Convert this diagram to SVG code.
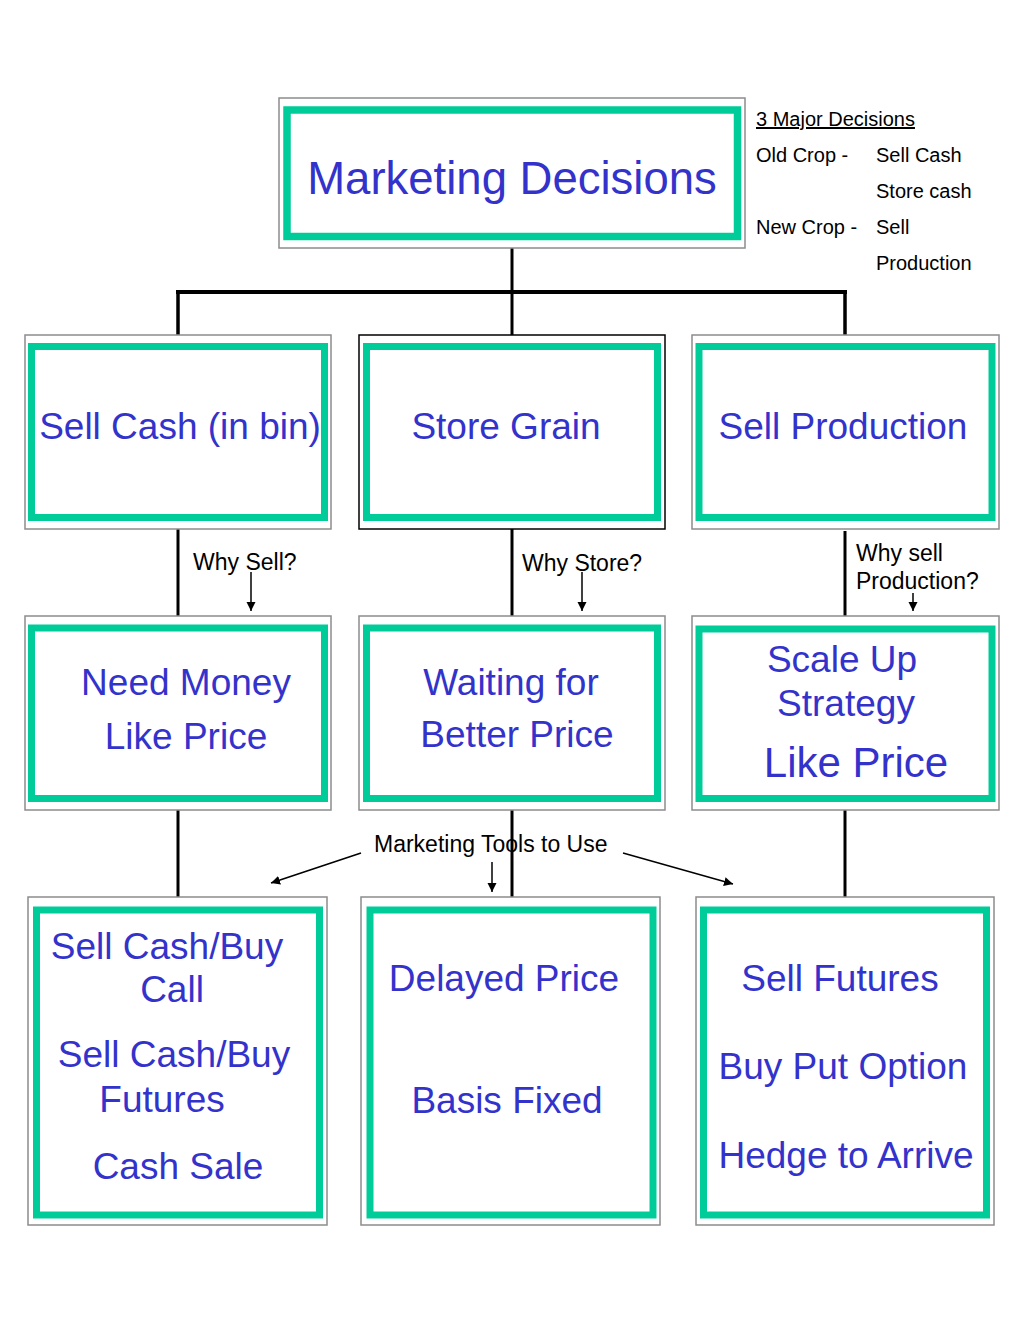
<svg xmlns="http://www.w3.org/2000/svg" width="1024" height="1325" viewBox="0 0 1024 1325">
<style>
.frame{fill:#fff;stroke:#8c8c8c;stroke-width:1.5}
.frameb{fill:#fff;stroke:#000;stroke-width:1.5}
.green{fill:none;stroke:#00cc99;stroke-width:7}
.big{font-family:"Liberation Sans",Arial,sans-serif;font-size:37px;fill:#3333cc;text-anchor:middle}
.lbl{font-family:"Liberation Sans",Arial,sans-serif;font-size:23px;fill:#000}
.leg{font-family:"Liberation Sans",Arial,sans-serif;font-size:20px;fill:#000}
.conn{stroke:#000;fill:none}
</style>
<defs>
<marker id="ah" markerUnits="userSpaceOnUse" markerWidth="10" markerHeight="10" refX="9" refY="4.5" orient="auto">
<path d="M0,0 L9,4.5 L0,9 Z" fill="#000"/>
</marker>
</defs>
<rect width="1024" height="1325" fill="#fff"/>

<g id="connectors">
<line class="conn" x1="512" y1="248" x2="512" y2="335" stroke-width="3"/>
<line class="conn" x1="176" y1="292" x2="847" y2="292" stroke-width="4"/>
<line class="conn" x1="178" y1="292" x2="178" y2="335" stroke-width="3.5"/>
<line class="conn" x1="845" y1="292" x2="845" y2="335" stroke-width="3.5"/>
<line class="conn" x1="178" y1="529" x2="178" y2="616" stroke-width="3"/>
<line class="conn" x1="512" y1="529" x2="512" y2="616" stroke-width="3"/>
<line class="conn" x1="845" y1="531" x2="845" y2="616" stroke-width="3"/>
<line class="conn" x1="178" y1="810" x2="178" y2="897" stroke-width="3"/>
<line class="conn" x1="512" y1="810" x2="512" y2="897" stroke-width="3"/>
<line class="conn" x1="845" y1="810" x2="845" y2="897" stroke-width="3"/>
<line class="conn" x1="251" y1="572" x2="251" y2="611" stroke-width="1.5" marker-end="url(#ah)"/>
<line class="conn" x1="582" y1="572" x2="582" y2="611" stroke-width="1.5" marker-end="url(#ah)"/>
<line class="conn" x1="913" y1="593" x2="913" y2="611" stroke-width="1.5" marker-end="url(#ah)"/>
<line class="conn" x1="361" y1="853" x2="271" y2="883" stroke-width="1.5" marker-end="url(#ah)"/>
<line class="conn" x1="492" y1="862" x2="492" y2="892" stroke-width="1.5" marker-end="url(#ah)"/>
<line class="conn" x1="623" y1="853" x2="733" y2="884" stroke-width="1.5" marker-end="url(#ah)"/>
</g>

<g id="marketing-decisions">
<rect class="frame" x="279" y="98" width="466" height="150"/>
<rect class="green" x="287" y="110" width="450.5" height="126.5" style="stroke-width:7.5"/>
<text class="big" x="512" y="194" style="font-size:45.5px">Marketing Decisions</text>
</g>

<g id="legend">
<text class="leg" x="756" y="126" text-decoration="underline">3 Major Decisions</text>
<text class="leg" x="756" y="162">Old Crop -</text>
<text class="leg" x="876" y="162">Sell Cash</text>
<text class="leg" x="876" y="198">Store cash</text>
<text class="leg" x="756" y="234">New Crop -</text>
<text class="leg" x="876" y="234">Sell</text>
<text class="leg" x="876" y="270">Production</text>
</g>

<g id="sell-cash">
<rect class="frame" x="25" y="335" width="306" height="194"/>
<rect class="green" x="31.5" y="346.5" width="293" height="171"/>
<text class="big" x="180" y="439">Sell Cash (in bin)</text>
</g>

<g id="store-grain">
<rect class="frameb" x="359" y="335" width="306" height="194"/>
<rect class="green" x="366.5" y="346.5" width="291" height="171"/>
<text class="big" x="506" y="439">Store Grain</text>
</g>

<g id="sell-production">
<rect class="frame" x="692" y="335" width="307" height="194"/>
<rect class="green" x="699" y="346.5" width="293" height="171"/>
<text class="big" x="843" y="439">Sell Production</text>
</g>

<g id="labels">
<text class="lbl" x="193" y="570">Why Sell?</text>
<text class="lbl" x="522" y="571">Why Store?</text>
<text class="lbl" x="856" y="561">Why sell</text>
<text class="lbl" x="856" y="589">Production?</text>
<text class="lbl" x="374" y="852">Marketing Tools to Use</text>
</g>

<g id="need-money">
<rect class="frame" x="25" y="616" width="306" height="194"/>
<rect class="green" x="31.5" y="628" width="293" height="170.5"/>
<text class="big" x="186" y="695">Need Money</text>
<text class="big" x="186" y="749">Like Price</text>
</g>

<g id="waiting">
<rect class="frame" x="359" y="616" width="306" height="194"/>
<rect class="green" x="366.5" y="628" width="291" height="170.5"/>
<text class="big" x="511" y="695">Waiting for</text>
<text class="big" x="517" y="747">Better Price</text>
</g>

<g id="scale-up">
<rect class="frame" x="692" y="616" width="307" height="194"/>
<rect class="green" x="699" y="629" width="293" height="169.5"/>
<text class="big" x="842" y="672">Scale Up</text>
<text class="big" x="846" y="716">Strategy</text>
<text class="big" x="856" y="777" style="font-size:42px">Like Price</text>
</g>

<g id="cash-tools">
<rect class="frame" x="28" y="897" width="299" height="328"/>
<rect class="green" x="36.5" y="910" width="283" height="305"/>
<text class="big" x="167" y="959">Sell Cash/Buy</text>
<text class="big" x="172" y="1002">Call</text>
<text class="big" x="174" y="1067">Sell Cash/Buy</text>
<text class="big" x="162" y="1112">Futures</text>
<text class="big" x="178" y="1179">Cash Sale</text>
</g>

<g id="store-tools">
<rect class="frame" x="361" y="897" width="299" height="328"/>
<rect class="green" x="370" y="910" width="283" height="305"/>
<text class="big" x="504" y="991">Delayed Price</text>
<text class="big" x="507" y="1113">Basis Fixed</text>
</g>

<g id="production-tools">
<rect class="frame" x="696" y="897" width="298" height="328"/>
<rect class="green" x="703.5" y="910" width="283" height="305"/>
<text class="big" x="840" y="991">Sell Futures</text>
<text class="big" x="843" y="1079">Buy Put Option</text>
<text class="big" x="846" y="1168">Hedge to Arrive</text>
</g>
</svg>
